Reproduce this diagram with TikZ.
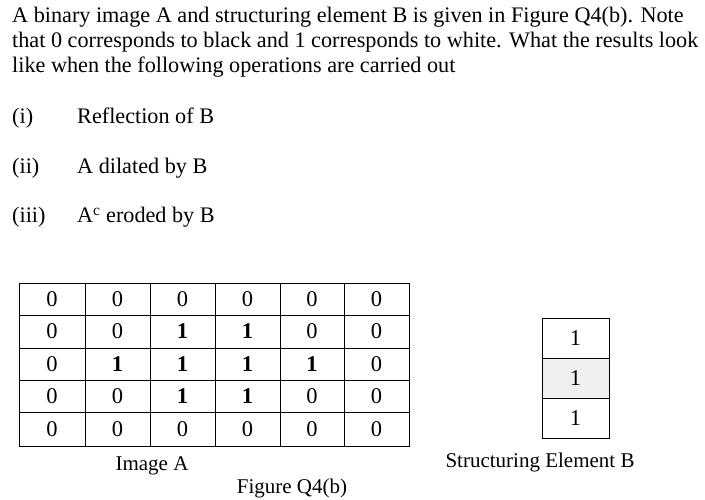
\documentclass[tikz,border=0pt]{standalone}
\usepackage{fontspec}
\setmainfont{Liberation Serif}
\begin{document}
\begin{tikzpicture}[x=1pt,y=-1pt,
  txt/.style={anchor=base west,inner sep=0pt,font=\fontsize{22.2}{26}\selectfont},
  cell/.style={font=\fontsize{22.5}{26}\selectfont},
  lbl/.style={anchor=base,inner sep=0pt,font=\fontsize{21}{26}\selectfont}]
\useasboundingbox (0,0) rectangle (705,500);
\node[txt] (l1) at (12,23) {A binary image A and structuring element B is given in Figure Q4(b). Note};
\node[txt] (l2) at (12,48) {that 0 corresponds to black and 1 corresponds to white. What the results look};
\node[txt] (l3) at (12,73) {like when the following operations are carried out};
\node[txt] (i1) at (12,124) {(i)};
\node[txt] (t1) at (77,124) {Reflection of B};
\node[txt] (i2) at (12,174) {(ii)};
\node[txt] (t2) at (77,174) {A dilated by B};
\node[txt] (i3) at (12,223) {(iii)};
\node[txt] (t3) at (77,223) {A\textsuperscript{c} eroded by B};
% grid
\def\xs{{19,85,150,215,280,344,409}}
\def\ys{{283,315,348,380,412,446}}
\foreach \r [count=\ri from 0] in {
  {0,0,0,0,0,0},{0,0,1,1,0,0},{0,1,1,1,1,0},{0,0,1,1,0,0},{0,0,0,0,0,0}}{
  \foreach \v [count=\ci from 0] in \r {
    \pgfmathsetmacro\xa{\xs[\ci]}\pgfmathsetmacro\xb{\xs[\ci+1]}
    \pgfmathsetmacro\ya{\ys[\ri]}\pgfmathsetmacro\yb{\ys[\ri+1]}
    \draw[line width=0.9pt] (\xa,\ya) rectangle (\xb,\yb);
    \node[cell] (a\ri\ci) at ({(\xa+\xb)/2},{(\ya+\yb)/2}) {\ifnum\v=1 \textbf{1}\else 0\fi};
  }}
\fill[gray!12] (542,358) rectangle (609,398);
\draw[line width=0.9pt] (542,318) rectangle (609,438);
\draw[line width=0.9pt] (542,358) -- (609,358) (542,398) -- (609,398);
\node[cell] (b1) at (575.5,338) {1};
\node[cell] (b2) at (575.5,378) {1};
\node[cell] (b3) at (575.5,418) {1};
\node[lbl] (la) at (152,470) {Image A};
\node[lbl] (lf) at (292,493) {Figure Q4(b)};
\node[lbl] (lb) at (540,467) {Structuring Element B};
\end{tikzpicture}
\end{document}
